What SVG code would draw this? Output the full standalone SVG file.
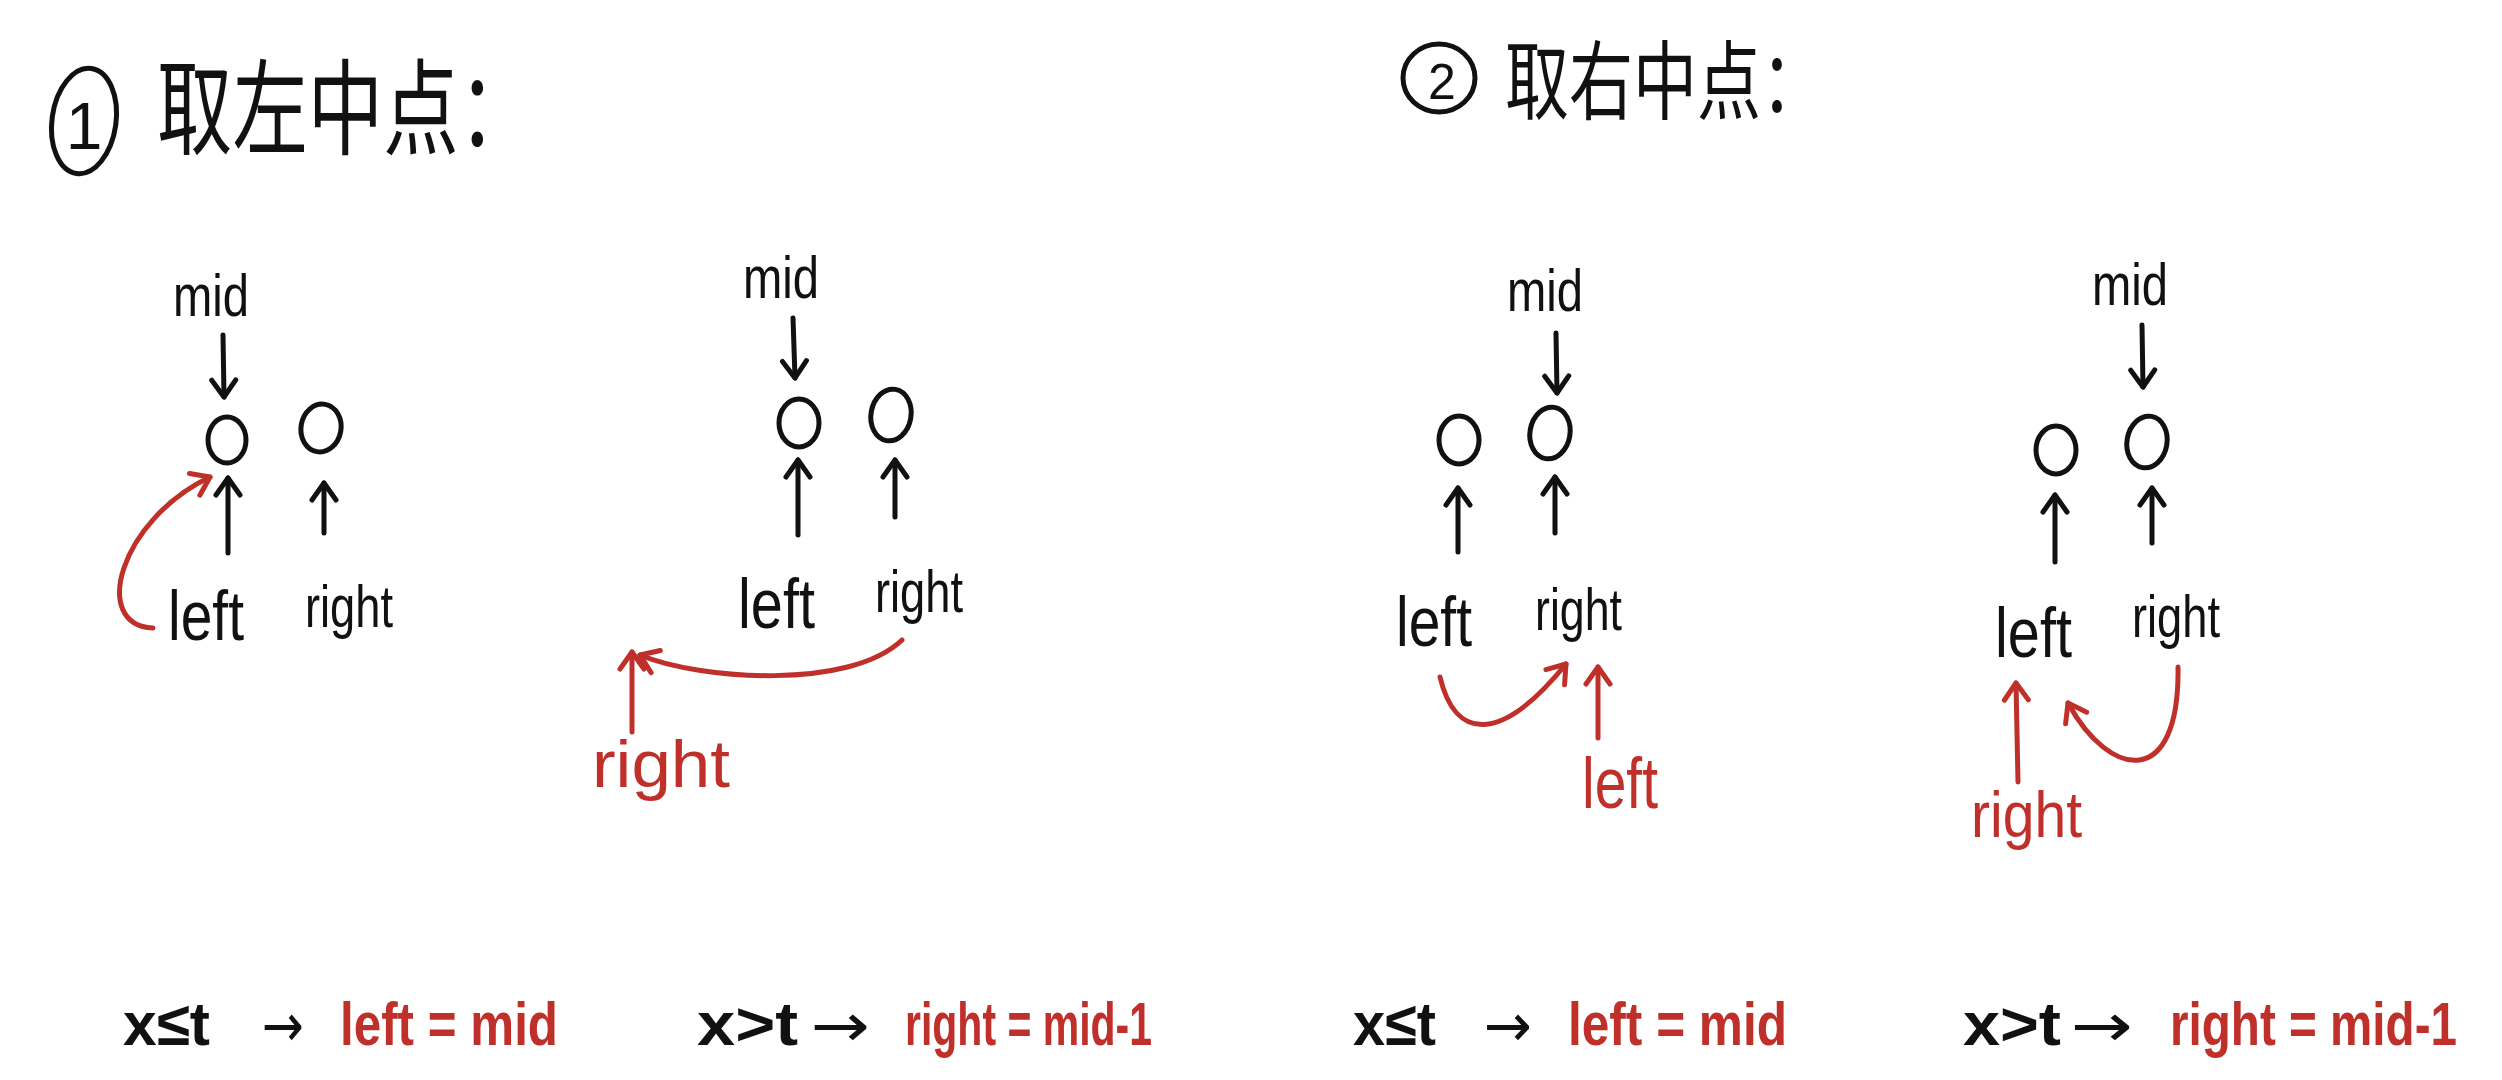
<svg xmlns="http://www.w3.org/2000/svg" width="2502" height="1080" viewBox="0 0 2502 1080">
<style>
.k{fill:none;stroke:#111;stroke-width:5;stroke-linecap:round;stroke-linejoin:round}
.r{fill:none;stroke:#c0302b;stroke-width:5;stroke-linecap:round;stroke-linejoin:round}
.t{font-family:"Liberation Sans","DejaVu Sans",sans-serif;fill:#111}
.tr{font-family:"Liberation Sans","DejaVu Sans",sans-serif;fill:#c0302b}
.cjk{font-family:"Noto Sans CJK SC","Noto Sans CJK JP",sans-serif;fill:#111}
.lab{font-size:60px}
.ptr{font-size:70px}
.eq{font-size:62px;font-weight:bold}
.arw{font-family:"DejaVu Sans",sans-serif;font-size:60px;fill:#111}
</style>
<defs>
<marker id="ak" markerUnits="userSpaceOnUse" markerWidth="30" markerHeight="30" viewBox="0 0 30 30" refX="22" refY="15" orient="auto" overflow="visible"><path d="M5,3 L22,15 L5,27" fill="none" stroke="#111" stroke-width="5" stroke-linecap="round" stroke-linejoin="round"/></marker>
<marker id="ar" markerUnits="userSpaceOnUse" markerWidth="30" markerHeight="30" viewBox="0 0 30 30" refX="22" refY="15" orient="auto" overflow="visible"><path d="M5,3 L22,15 L5,27" fill="none" stroke="#c0302b" stroke-width="5" stroke-linecap="round" stroke-linejoin="round"/></marker>
</defs>
<rect width="2502" height="1080" fill="#fff"/>

<g id="title1">
<ellipse class="k" cx="84" cy="121" rx="32" ry="53" transform="rotate(8 84 121)"/>
<text class="t" x="84" y="149" font-size="66" text-anchor="middle">1</text>
<text class="cjk" x="157" y="147" font-size="104" textLength="377" lengthAdjust="spacingAndGlyphs">取左中点：</text>
</g>
<g id="title2">
<ellipse class="k" cx="1439" cy="78" rx="36" ry="34"/>
<text class="t" x="1442" y="99" font-size="50" text-anchor="middle">2</text>
<text class="cjk" x="1505" y="113" font-size="86" textLength="320" lengthAdjust="spacingAndGlyphs">取右中点：</text>
</g>

<!-- diagram 1 -->
<g id="d1-mid"><text class="t lab" x="173" y="316" textLength="76" lengthAdjust="spacingAndGlyphs">mid</text></g>
<g id="d1-n1"><ellipse class="k" cx="227" cy="440" rx="19" ry="23"/></g>
<g id="d1-n2"><ellipse class="k" cx="321" cy="428" rx="20" ry="24" transform="rotate(10 321 428)"/></g>
<g id="d1-left"><text class="t ptr" x="168" y="640" textLength="76" lengthAdjust="spacingAndGlyphs">left</text></g>
<g id="d1-right"><text class="t lab" x="305" y="627" textLength="88" lengthAdjust="spacingAndGlyphs">right</text></g>

<!-- diagram 2 -->
<g id="d2-mid"><text class="t lab" x="743" y="298" textLength="76" lengthAdjust="spacingAndGlyphs">mid</text></g>
<g id="d2-n1"><ellipse class="k" cx="799" cy="423" rx="20" ry="24"/></g>
<g id="d2-n2"><ellipse class="k" cx="891" cy="415" rx="20" ry="26" transform="rotate(10 891 415)"/></g>
<g id="d2-left"><text class="t ptr" x="738" y="628" textLength="77" lengthAdjust="spacingAndGlyphs">left</text></g>
<g id="d2-right"><text class="t lab" x="875" y="612" textLength="88" lengthAdjust="spacingAndGlyphs">right</text></g>
<g id="d2-newright"><text class="tr" x="592" y="787" font-size="66" textLength="138" lengthAdjust="spacingAndGlyphs">right</text></g>

<!-- diagram 3 -->
<g id="d3-mid"><text class="t lab" x="1507" y="311" textLength="76" lengthAdjust="spacingAndGlyphs">mid</text></g>
<g id="d3-n1"><ellipse class="k" cx="1459" cy="440" rx="20" ry="24"/></g>
<g id="d3-n2"><ellipse class="k" cx="1550" cy="433" rx="20" ry="26" transform="rotate(10 1550 433)"/></g>
<g id="d3-left"><text class="t ptr" x="1396" y="646" textLength="76" lengthAdjust="spacingAndGlyphs">left</text></g>
<g id="d3-right"><text class="t lab" x="1535" y="630" textLength="87" lengthAdjust="spacingAndGlyphs">right</text></g>
<g id="d3-newleft"><text class="tr" x="1582" y="808" font-size="72" textLength="76" lengthAdjust="spacingAndGlyphs">left</text></g>

<!-- diagram 4 -->
<g id="d4-mid"><text class="t lab" x="2092" y="305" textLength="76" lengthAdjust="spacingAndGlyphs">mid</text></g>
<g id="d4-n1"><ellipse class="k" cx="2056" cy="450" rx="20" ry="24"/></g>
<g id="d4-n2"><ellipse class="k" cx="2147" cy="442" rx="20" ry="26" transform="rotate(10 2147 442)"/></g>
<g id="d4-left"><text class="t ptr" x="1995" y="657" textLength="77" lengthAdjust="spacingAndGlyphs">left</text></g>
<g id="d4-right"><text class="t lab" x="2132" y="637" textLength="88" lengthAdjust="spacingAndGlyphs">right</text></g>
<g id="d4-newright"><text class="tr" x="1971" y="837" font-size="64" textLength="111" lengthAdjust="spacingAndGlyphs">right</text></g>

<g id="connectors">
<!-- d1 -->
<path class="k" d="M223,335 L224,397" marker-end="url(#ak)"/>
<path class="k" d="M228,553 L228,478" marker-end="url(#ak)"/>
<path class="k" d="M324,533 L324,483" marker-end="url(#ak)"/>
<path class="r" d="M153,628 C90,625 120,520 210,477" marker-end="url(#ar)"/>
<!-- d2 -->
<path class="k" d="M793,318 L795,378" marker-end="url(#ak)"/>
<path class="k" d="M798,535 L798,460" marker-end="url(#ak)"/>
<path class="k" d="M895,517 L895,460" marker-end="url(#ak)"/>
<path class="r" d="M902,640 C850,690 700,680 640,655" marker-end="url(#ar)"/>
<path class="r" d="M632,732 L632,652" marker-end="url(#ar)"/>
<!-- d3 -->
<path class="k" d="M1556,333 L1557,393" marker-end="url(#ak)"/>
<path class="k" d="M1458,552 L1458,488" marker-end="url(#ak)"/>
<path class="k" d="M1555,533 L1555,477" marker-end="url(#ak)"/>
<path class="r" d="M1440,677 C1455,740 1500,745 1566,664" marker-end="url(#ar)"/>
<path class="r" d="M1598,738 L1598,667" marker-end="url(#ar)"/>
<!-- d4 -->
<path class="k" d="M2142,325 L2143,387" marker-end="url(#ak)"/>
<path class="k" d="M2055,562 L2055,495" marker-end="url(#ak)"/>
<path class="k" d="M2152,543 L2152,488" marker-end="url(#ak)"/>
<path class="r" d="M2178,667 C2180,790 2110,780 2068,703" marker-end="url(#ar)"/>
<path class="r" d="M2018,782 L2016,683" marker-end="url(#ar)"/>
</g>

<g id="rules">
<text class="t eq" x="123" y="1045" textLength="87" lengthAdjust="spacingAndGlyphs">x≤t</text>
<text class="arw" x="262" y="1046" textLength="42" lengthAdjust="spacingAndGlyphs">→</text>
<text class="tr eq" x="340" y="1045" textLength="218" lengthAdjust="spacingAndGlyphs">left = mid</text>
<text class="t eq" x="697" y="1045" textLength="101" lengthAdjust="spacingAndGlyphs">x&gt;t</text>
<text class="arw" x="811" y="1046" textLength="59" lengthAdjust="spacingAndGlyphs">→</text>
<text class="tr eq" x="905" y="1045" textLength="247" lengthAdjust="spacingAndGlyphs">right = mid-1</text>
<text class="t eq" x="1353" y="1045" textLength="83" lengthAdjust="spacingAndGlyphs">x≤t</text>
<text class="arw" x="1484" y="1046" textLength="48" lengthAdjust="spacingAndGlyphs">→</text>
<text class="tr eq" x="1568" y="1045" textLength="219" lengthAdjust="spacingAndGlyphs">left = mid</text>
<text class="t eq" x="1963" y="1045" textLength="98" lengthAdjust="spacingAndGlyphs">x&gt;t</text>
<text class="arw" x="2071" y="1046" textLength="62" lengthAdjust="spacingAndGlyphs">→</text>
<text class="tr eq" x="2170" y="1045" textLength="287" lengthAdjust="spacingAndGlyphs">right = mid-1</text>
</g>
</svg>
